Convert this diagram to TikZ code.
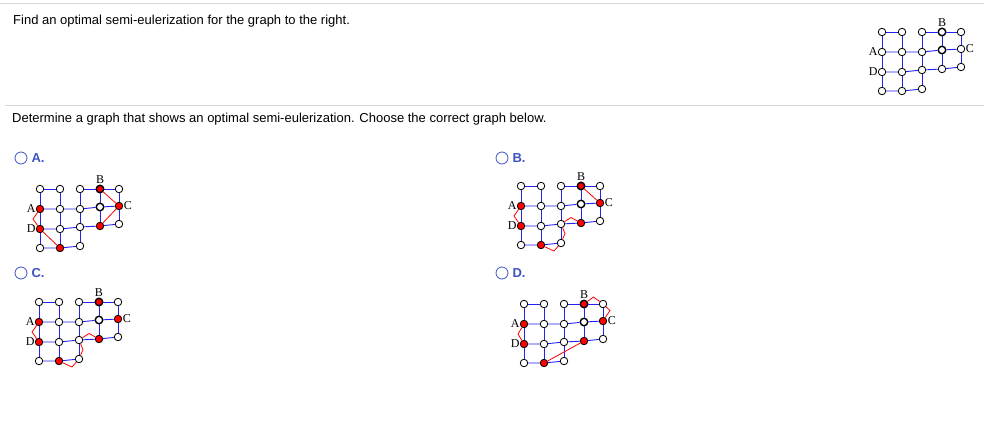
\documentclass[tikz,border=0pt]{standalone}
\usepackage{fontspec}
\setmainfont{Liberation Serif}
\setsansfont{Liberation Sans}
\usetikzlibrary{positioning,calc}

\definecolor{edgeblue}{RGB}{35,35,240}
\definecolor{optblue}{RGB}{62,82,195}
\definecolor{rulegray}{RGB}{214,214,222}

% the grid graph, nodes named with a prefix
\newcommand{\semigraph}[1]{%
	\node[vtx] (#1-1-1) at (0,0) {};
	\node[vtx] (#1-2-1) at (20,0) {};
	\node[vtx] (#1-3-1) at (40,0) {};
	\node[vtx,oddv,heavy] (#1B) at (60,0) {};
	\node[vtx] (#1-5-1) at (79,0) {};
	\node[vtx,oddv] (#1A) at (0,20) {};
	\node[vtx] (#1-2-2) at (20,20) {};
	\node[vtx] (#1-3-2) at (40,20) {};
	\node[vtx,heavy] (#1-4-2) at (60,18) {};
	\node[vtx,oddv] (#1C) at (79,17) {};
	\node[vtx,oddv] (#1D) at (0,40) {};
	\node[vtx] (#1-2-3) at (20,40) {};
	\node[vtx] (#1-3-3) at (40,38) {};
	\node[vtx,oddv] (#1-4-3) at (60,37) {};
	\node[vtx] (#1-5-3) at (79,35) {};
	\node[vtx] (#1-1-4) at (0,59) {};
	\node[vtx,oddv] (#1-2-4) at (20,59) {};
	\node[vtx] (#1-3-4) at (40,57) {};
	\node[lbl,left=0pt of #1A] (#1-la) {A};
	\node[lbl,above=1pt of #1B] (#1-lb) {B};
	\node[lbl,right=0.5pt of #1C] (#1-lc) {C};
	\node[lbl,left=0pt of #1D] (#1-ld) {D};
	\draw[gedge] (#1-1-1) -- (#1-2-1) (#1-3-1) -- (#1B) -- (#1-5-1);
	\draw[gedge] (#1-1-1) -- (#1A) (#1-2-1) -- (#1-2-2) (#1-3-1) -- (#1-3-2)
		(#1B) -- (#1-4-2) (#1-5-1) -- (#1C);
	\draw[gedge] (#1A) -- (#1-2-2) -- (#1-3-2) -- (#1-4-2) -- (#1C);
	\draw[gedge] (#1A) -- (#1D) (#1-2-2) -- (#1-2-3) (#1-3-2) -- (#1-3-3)
		(#1-4-2) -- (#1-4-3) (#1C) -- (#1-5-3);
	\draw[gedge] (#1D) -- (#1-2-3) -- (#1-3-3) -- (#1-4-3) -- (#1-5-3);
	\draw[gedge] (#1D) -- (#1-1-4) (#1-2-3) -- (#1-2-4) (#1-3-3) -- (#1-3-4);
	\draw[gedge] (#1-1-4) -- (#1-2-4) -- (#1-3-4);
}

\begin{document}
\begin{tikzpicture}[x=1pt,y=-1pt,
	vtx/.style={draw,circle,fill=white,inner sep=0,minimum size=7.5pt,line width=0.8pt},
	heavy/.style={line width=1.4pt},
	oddv/.style={},
	lbl/.style={font=\rmfamily\fontsize{12}{14}\selectfont,inner sep=0},
	gedge/.style={edgeblue,line width=0.9pt},
	redl/.style={red,line width=0.8pt},
	txt/.style={anchor=west,inner sep=0,font=\sffamily\fontsize{13}{15}\selectfont},
	radio/.style={draw=optblue,circle,inner sep=0,minimum size=12pt,line width=0.8pt},
	optl/.style={inner sep=0,text=optblue,font=\sffamily\bfseries\fontsize{13}{15}\selectfont}]
	\useasboundingbox (0,0) rectangle (984,428);
	\draw[rulegray,line width=1pt] (0,3.5) -- (984,3.5);
	\draw[rulegray,line width=1pt] (5,105) -- (984,105);
	\node[txt] (q1) at (13,21) {Find an optimal semi-eulerization for the graph to the right.};
	\node[txt] (q2) at (12,119) {Determine a graph that shows an optimal semi-eulerization. Choose the correct graph below.};
	% the given graph
	\begin{scope}[shift={(882,32)}]
		\semigraph{g}
	\end{scope}
	% choices
	\node[radio] (ra) at (21,158) {};
	\node[optl,right=4pt of ra] (la) {A.};
	\node[radio] (rb) at (502,158) {};
	\node[optl,right=4pt of rb] (lb) {B.};
	\node[radio] (rc) at (21,273) {};
	\node[optl,right=4pt of rc] (lc) {C.};
	\node[radio] (rd) at (502,273) {};
	\node[optl,right=4pt of rd] (ld) {D.};
	\begin{scope}[shift={(40,189)},oddv/.style={fill=red}]
		\semigraph{a}
		\draw[redl] (aA) -- ($(aA)!.5!(aD)+(-7,0)$) -- (aD);
		\draw[redl] (aB) -- (aC) -- (a-4-3);
		\draw[redl] (aD) -- (a-2-4);
	\end{scope}
	\begin{scope}[shift={(521,186)},oddv/.style={fill=red}]
		\semigraph{b}
		\draw[redl] (bA) -- ($(bA)!.5!(bD)+(-7,0)$) -- (bD);
		\draw[redl] (bB) -- (bC);
		\draw[redl] (b-4-3) -- ($(b-4-3)!.5!(b-3-3)+(0,-6)$) -- (b-3-3)
			-- ($(b-3-3)!.5!(b-3-4)+(4,0)$) -- (b-3-4)
			-- ($(b-3-4)!.5!(b-2-4)+(3,7)$) -- (b-2-4);
	\end{scope}
	\begin{scope}[shift={(39,302)},oddv/.style={fill=red}]
		\semigraph{c}
		\draw[redl] (cA) -- ($(cA)!.5!(cD)+(-7,0)$) -- (cD);
		\draw[redl] (c-4-3) -- ($(c-4-3)!.5!(c-3-3)+(0,-6)$) -- (c-3-3)
			-- ($(c-3-3)!.5!(c-3-4)+(4,0)$) -- (c-3-4)
			-- ($(c-3-4)!.5!(c-2-4)+(3,7)$) -- (c-2-4);
	\end{scope}
	\begin{scope}[shift={(524,304)},oddv/.style={fill=red}]
		\semigraph{d}
		\draw[redl] (dA) -- ($(dA)!.5!(dD)+(-6,0)$) -- (dD);
		\draw[redl] (dB) -- ($(dB)!.5!(d-5-1)+(0,-7)$) -- (d-5-1)
			-- ($(d-5-1)!.5!(dC)+(7,-2)$) -- (dC);
		\draw[redl] (d-4-3) -- (d-2-4);
	\end{scope}
\end{tikzpicture}
\end{document}
